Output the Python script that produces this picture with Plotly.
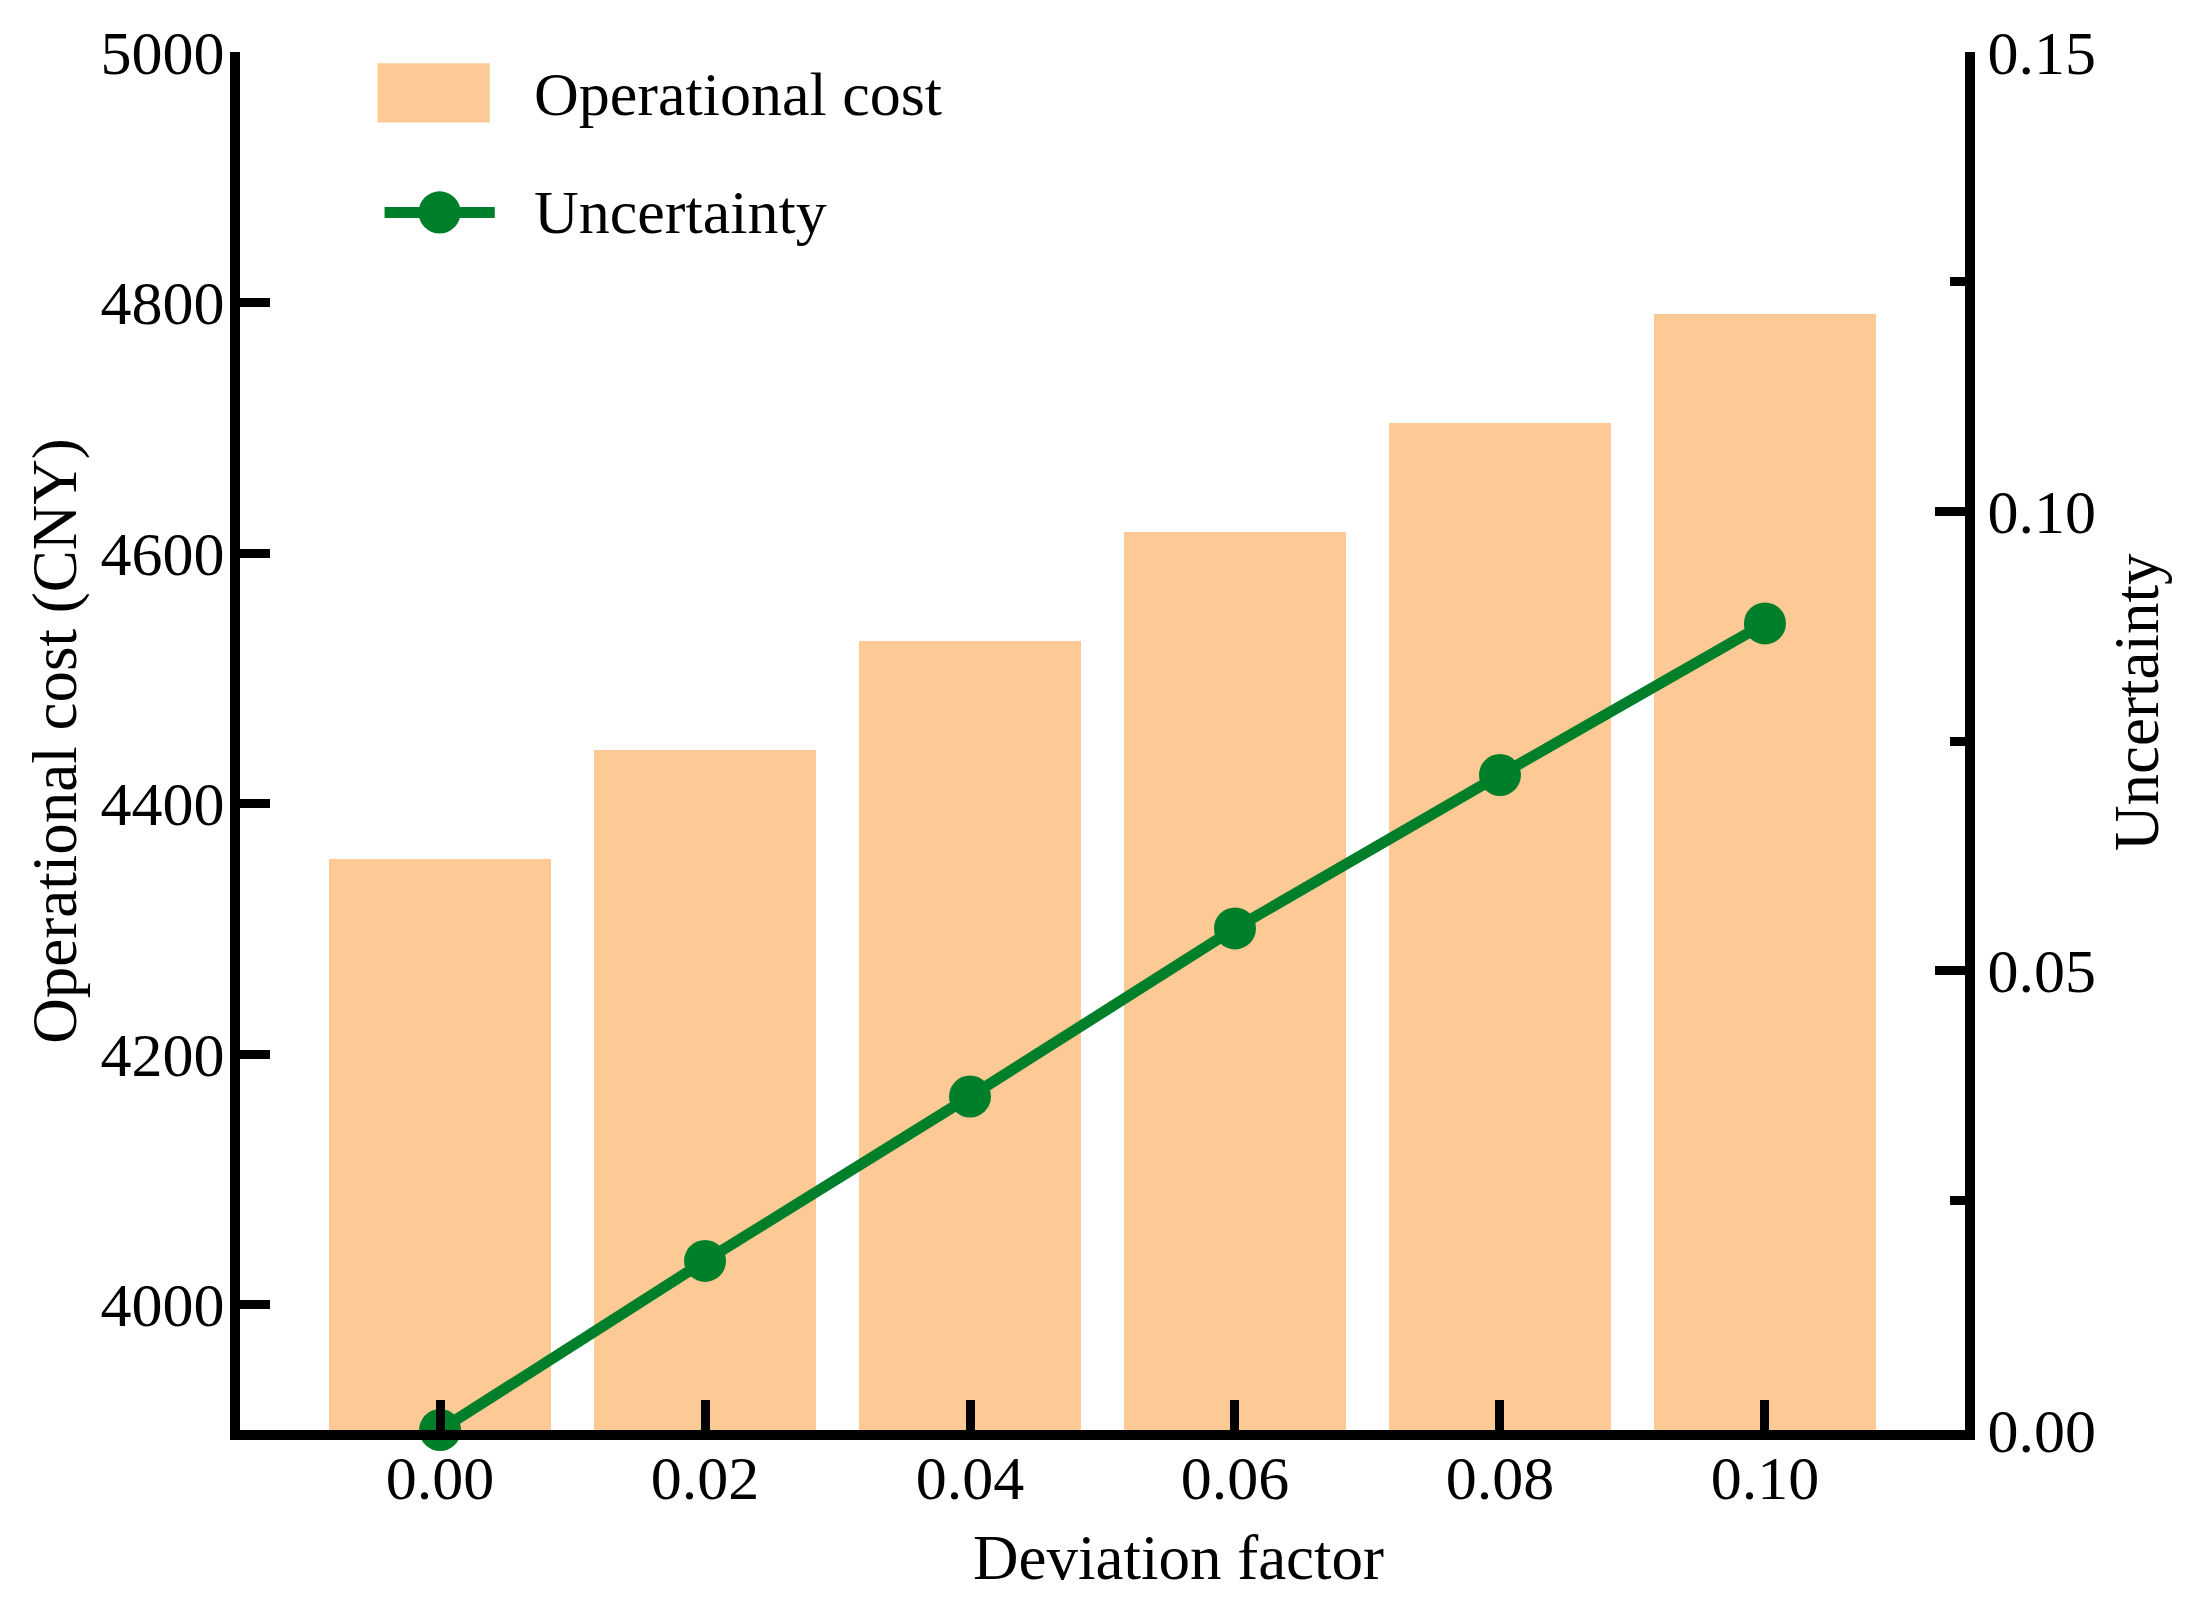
import plotly.graph_objs as go

#Chart data
deviation_factor = [0.00, 0.02, 0.04, 0.06, 0.08, 0.10]
x_labels = ['0.00', '0.02', '0.04', '0.06', '0.08', '0.10']
operational_cost = [4356, 4443, 4530, 4617, 4704, 4791]
uncertainty = [0.0, 0.0184, 0.0363, 0.0546, 0.0713, 0.0878]

cost_ticks = [4000, 4200, 4400, 4600, 4800, 5000]
unc_ticks = [0.0, 0.05, 0.10, 0.15]
unc_labels = ['0.00', '0.05', '0.10', '0.15']

bar_color = '#FDC994'
line_color = '#007F2B'
font_family = 'Liberation Serif'

fig = go.Figure()

#Bars for the operational cost on the left axis
fig.add_trace(go.Bar(
    x=deviation_factor, y=operational_cost,
    name='Operational cost',
    width=0.01677,
    marker=dict(color=bar_color, line=dict(width=0)),
    showlegend=False
))

#Line with markers for the uncertainty on the right axis
fig.add_trace(go.Scatter(
    x=deviation_factor, y=uncertainty,
    name='Uncertainty', yaxis='y2',
    mode='lines+markers',
    line=dict(color=line_color, width=11),
    marker=dict(color=line_color, size=42),
    cliponaxis=False,
    showlegend=False
))

#Hand made legend in the upper left corner
fig.add_shape(type='rect', xref='paper', yref='paper',
              x0=0.0797, x1=0.1448, y0=0.9489, y1=0.9918,
              fillcolor=bar_color, line=dict(width=0))
fig.add_shape(type='line', xref='paper', yref='paper',
              x0=0.0838, x1=0.1477, y0=0.8836, y1=0.8836,
              line=dict(color=line_color, width=11))
fig.add_shape(type='circle', xref='paper', yref='paper',
              x0=0.1157 - 0.0122, x1=0.1157 + 0.0122,
              y0=0.8836 - 0.0153, y1=0.8836 + 0.0153,
              fillcolor=line_color, line=dict(width=0))
fig.add_annotation(text='Operational cost', xref='paper', yref='paper',
                   x=0.1691, y=0.9693, xanchor='left', yanchor='middle',
                   showarrow=False, font=dict(size=62))
fig.add_annotation(text='Uncertainty', xref='paper', yref='paper',
                   x=0.1691, y=0.8836, xanchor='left', yanchor='middle',
                   showarrow=False, font=dict(size=62))

#Axis titles that sit off centre in the reference
fig.add_annotation(text='Deviation factor', xref='paper', yref='paper',
                   x=0.5443, y=-0.093, xanchor='center', yanchor='middle',
                   showarrow=False, font=dict(size=63))
fig.add_annotation(text='Uncertainty', xref='paper', yref='paper',
                   x=1.100, y=0.528, xanchor='center', yanchor='middle',
                   textangle=-90, showarrow=False, font=dict(size=63))

axis_common = dict(
    showgrid=False, zeroline=False, showline=True,
    linecolor='black', linewidth=10,
    ticks='inside', ticklen=30, tickwidth=9, tickcolor='black',
    tickfont=dict(size=62), automargin=False
)

fig.update_layout(
    width=2205, height=1609,
    margin=dict(l=232, r=248, t=44, b=187),
    plot_bgcolor='white', paper_bgcolor='white',
    font=dict(family=font_family, size=62, color='black'),
    bargap=0,
    xaxis=dict(
        range=[-0.0151, 0.1151],
        tickmode='array', tickvals=deviation_factor, ticktext=x_labels,
        ticklabelstandoff=-15,
        **axis_common
    ),
    yaxis=dict(
        range=[3900, 5000],
        tickmode='array', tickvals=cost_ticks,
        ticklabelstandoff=-7,
        title=dict(text='Operational cost (CNY)', standoff=8,
                   font=dict(size=63)),
        **axis_common
    ),
    yaxis2=dict(
        range=[0, 0.15], overlaying='y', side='right',
        tickmode='array', tickvals=unc_ticks, ticktext=unc_labels,
        minor=dict(tickvals=[0.025, 0.075, 0.125], ticks='inside',
                   ticklen=15, tickwidth=9, tickcolor='black'),
        **axis_common
    )
)

fig.write_html("out.html")
